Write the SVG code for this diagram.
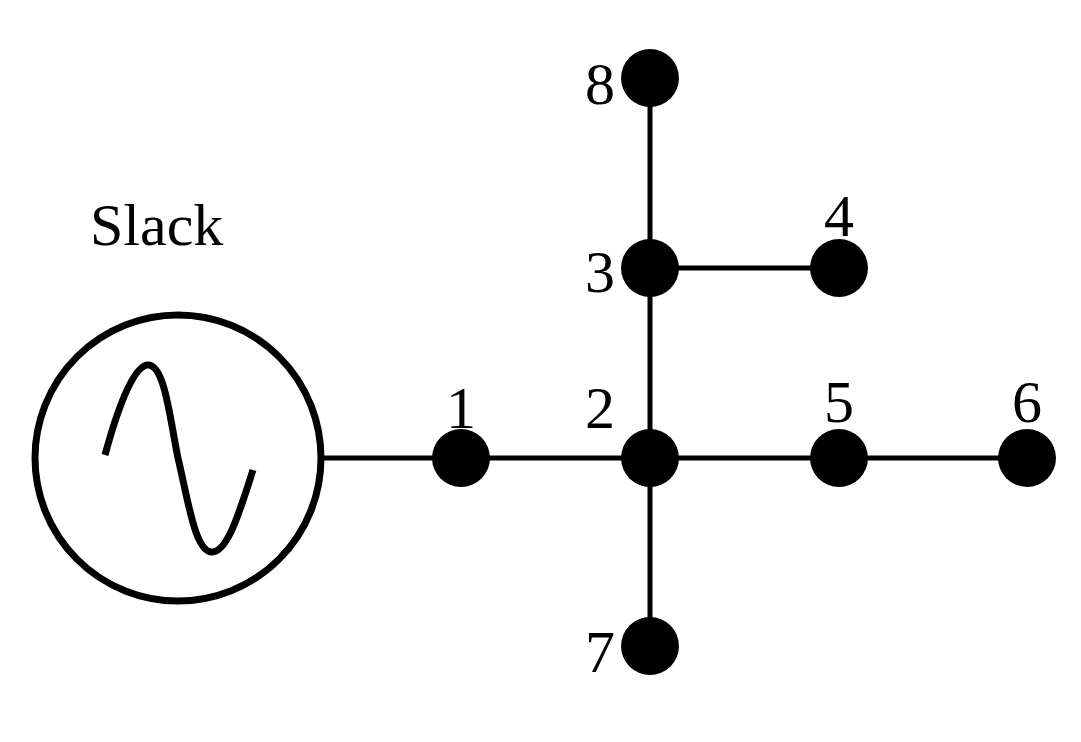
<svg xmlns="http://www.w3.org/2000/svg" width="1081" height="742" viewBox="0 0 1081 742">
<style>
.e{stroke:#000;stroke-width:5;fill:none}
.n{fill:#000}
.t{font-family:"Liberation Serif",serif;font-size:60px;fill:#000}
</style>
<rect width="1081" height="742" fill="#fff"/>
<g id="connectors">
<line class="e" x1="322" y1="458" x2="1027" y2="458"/>
<line class="e" x1="650" y1="78" x2="650" y2="646"/>
<line class="e" x1="650" y1="268" x2="839" y2="268"/>
</g>
<g id="slack">
<circle cx="178" cy="458" r="143" fill="#fff" stroke="#000" stroke-width="7"/>
<path d="M105,455 C120,400 135,365 148,365 C165,365 170,420 178,458 C188,500 195,552 212,552 C228,552 240,510 253,470" fill="none" stroke="#000" stroke-width="7"/>
<text class="t" x="90" y="245">Slack</text>
</g>
<g id="n1"><circle class="n" cx="461" cy="458" r="29"/><text class="t" x="461" y="428" text-anchor="middle">1</text></g>
<g id="n2"><circle class="n" cx="650" cy="458" r="29"/><text class="t" x="600" y="428" text-anchor="middle">2</text></g>
<g id="n3"><circle class="n" cx="650" cy="268" r="29"/><text class="t" x="600" y="292" text-anchor="middle">3</text></g>
<g id="n4"><circle class="n" cx="839" cy="268" r="29"/><text class="t" x="839" y="236" text-anchor="middle">4</text></g>
<g id="n5"><circle class="n" cx="839" cy="458" r="29"/><text class="t" x="839" y="422" text-anchor="middle">5</text></g>
<g id="n6"><circle class="n" cx="1027" cy="458" r="29"/><text class="t" x="1027" y="422" text-anchor="middle">6</text></g>
<g id="n7"><circle class="n" cx="650" cy="646" r="29"/><text class="t" x="600" y="672" text-anchor="middle">7</text></g>
<g id="n8"><circle class="n" cx="650" cy="78" r="29"/><text class="t" x="600" y="104" text-anchor="middle">8</text></g>
</svg>
